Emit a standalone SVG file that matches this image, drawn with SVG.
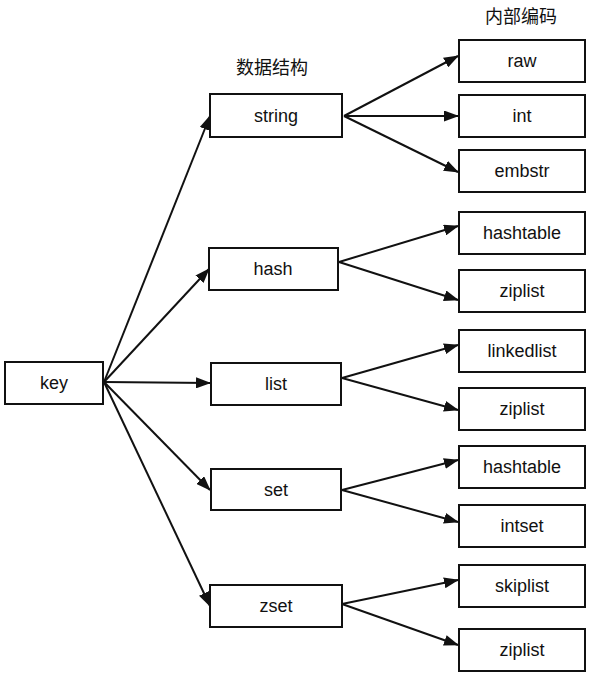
<svg xmlns="http://www.w3.org/2000/svg" width="600" height="679" viewBox="0 0 600 679">
<style>
.b{fill:#fff;stroke:#111;stroke-width:2}
.t{font-family:"Liberation Sans","Noto Sans CJK SC",sans-serif;font-size:18px;fill:#111;text-anchor:middle;dominant-baseline:central}
.c line{stroke:#111;stroke-width:2;marker-end:url(#a)}
</style>
<defs><marker id="a" markerWidth="15" markerHeight="11" refX="14" refY="5.5" orient="auto" markerUnits="userSpaceOnUse" viewBox="0 0 15 11"><path d="M0,0 L15,5.5 L0,11 z" fill="#111"/></marker></defs>
<rect width="600" height="679" fill="#fff"/>
<text class="t" x="272" y="68">数据结构</text>
<text class="t" x="521" y="17">内部编码</text>
<g class="c">
<line x1="104" y1="382" x2="210" y2="116"/>
<line x1="104" y1="382" x2="209" y2="269"/>
<line x1="104" y1="382" x2="210" y2="383"/>
<line x1="104" y1="382" x2="210" y2="490"/>
<line x1="104" y1="382" x2="210" y2="606"/>
<line x1="344" y1="116" x2="458" y2="56"/>
<line x1="344" y1="116" x2="458" y2="116"/>
<line x1="344" y1="116" x2="458" y2="172"/>
<line x1="339" y1="262" x2="458" y2="226"/>
<line x1="339" y1="262" x2="458" y2="300"/>
<line x1="342" y1="378" x2="458" y2="345"/>
<line x1="342" y1="378" x2="458" y2="410"/>
<line x1="342" y1="490" x2="458" y2="460"/>
<line x1="342" y1="490" x2="458" y2="522"/>
<line x1="342" y1="604" x2="458" y2="580"/>
<line x1="342" y1="604" x2="458" y2="645"/>
</g>
<g id="key"><rect class="b" x="5" y="362" width="98" height="42"/><text class="t" x="54" y="383">key</text></g>
<g id="string"><rect class="b" x="210" y="94" width="132" height="43"/><text class="t" x="276" y="116">string</text></g>
<g id="hash"><rect class="b" x="209" y="248" width="129" height="42"/><text class="t" x="273" y="269">hash</text></g>
<g id="list"><rect class="b" x="211" y="363" width="130" height="42"/><text class="t" x="276" y="384">list</text></g>
<g id="set"><rect class="b" x="211" y="469" width="130" height="41"/><text class="t" x="276" y="490">set</text></g>
<g id="zset"><rect class="b" x="210" y="585" width="132" height="42"/><text class="t" x="276" y="606">zset</text></g>
<g id="raw"><rect class="b" x="459" y="40" width="126" height="42"/><text class="t" x="522" y="61">raw</text></g>
<g id="int"><rect class="b" x="459" y="95" width="126" height="42"/><text class="t" x="522" y="116">int</text></g>
<g id="embstr"><rect class="b" x="459" y="150" width="126" height="42"/><text class="t" x="522" y="171">embstr</text></g>
<g id="hashtable1"><rect class="b" x="459" y="212" width="126" height="42"/><text class="t" x="522" y="233">hashtable</text></g>
<g id="ziplist1"><rect class="b" x="459" y="270" width="126" height="42"/><text class="t" x="522" y="291">ziplist</text></g>
<g id="linkedlist"><rect class="b" x="459" y="330" width="126" height="42"/><text class="t" x="522" y="351">linkedlist</text></g>
<g id="ziplist2"><rect class="b" x="459" y="388" width="126" height="42"/><text class="t" x="522" y="409">ziplist</text></g>
<g id="hashtable2"><rect class="b" x="459" y="446" width="126" height="42"/><text class="t" x="522" y="467">hashtable</text></g>
<g id="intset"><rect class="b" x="459" y="505" width="126" height="42"/><text class="t" x="522" y="526">intset</text></g>
<g id="skiplist"><rect class="b" x="459" y="565" width="126" height="42"/><text class="t" x="522" y="586">skiplist</text></g>
<g id="ziplist3"><rect class="b" x="459" y="629" width="126" height="42"/><text class="t" x="522" y="650">ziplist</text></g>
</svg>
